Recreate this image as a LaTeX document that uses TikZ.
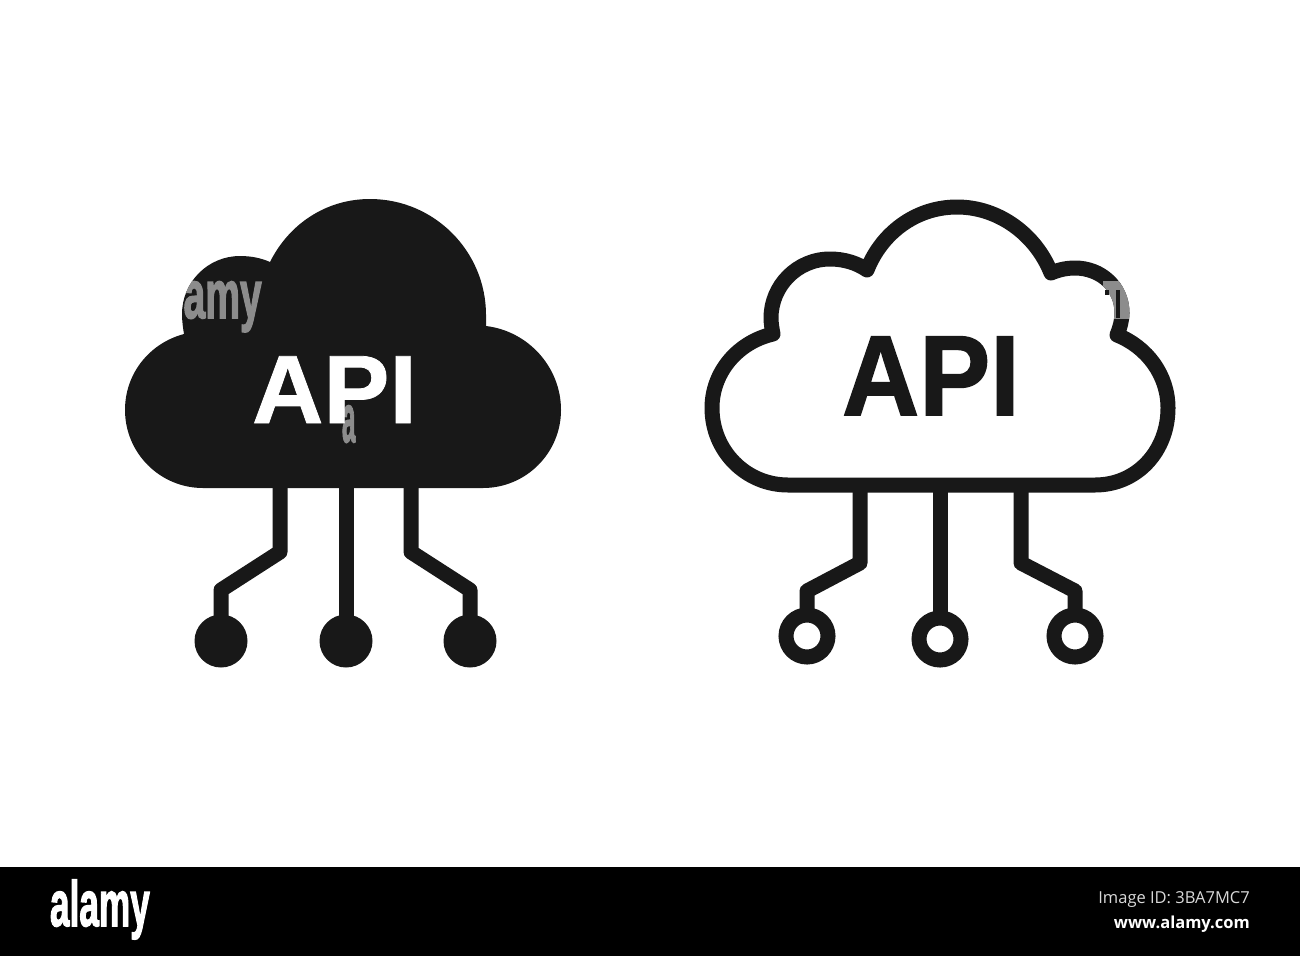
\documentclass[tikz,border=0pt]{standalone}
\usepackage{fontspec}
\setmainfont{Liberation Sans}
\newfontfamily\opensans{Open Sans}
\newfontfamily\apifont[BoldFeatures={FakeBold=0.8}]{Liberation Sans}
\newfontfamily\apiheavy[BoldFeatures={FakeBold=1.4}]{Liberation Sans}
\newfontfamily\logofont[BoldFeatures={FakeBold=2.5}]{Liberation Sans}
\definecolor{ink}{HTML}{181818}
\definecolor{mark}{HTML}{8C8C8C}
\newcommand{\leftcloud}{(203,488) -- (483,488) .. controls (526,488) and (561,453) .. (561,410) .. controls (561,367) and (528,331) .. (486,326) .. controls (486,316) and (486,315) .. (486,315) .. controls (486,251) and (434,199) .. (370,199) .. controls (326,199) and (289,224) .. (270,262) .. controls (261,258) and (251,256) .. (240,256) .. controls (208,256) and (182,282) .. (182,314) .. controls (182,321) and (183,328) .. (184,334) .. controls (150,343) and (125,373) .. (125,410) .. controls (125,453) and (160,488) .. (203,488) -- cycle}
\newcommand{\rightcloud}{(788,485) -- (1095,485) .. controls (1137,485) and (1168,451) .. (1168,408)
  .. controls (1168,375) and (1147,347) .. (1117,335)
  .. controls (1120,328) and (1122,320) .. (1122,313)
  .. controls (1122,287) and (1101,268) .. (1075,268)
  .. controls (1066,268) and (1058,270) .. (1051,273)
  .. controls (1036,235) and (999,207) .. (957,207)
  .. controls (915,207) and (881,234) .. (867,270)
  .. controls (857,263) and (844,259) .. (830,259)
  .. controls (797,259) and (771,286) .. (771,318)
  .. controls (771,323) and (772,329) .. (773,334)
  .. controls (738,342) and (712,372) .. (712,408)
  .. controls (712,451) and (746,485) .. (788,485) -- cycle}
\begin{document}
\begin{tikzpicture}[x=1pt,y=-1pt,
  leg/.style={line width=15pt,draw=ink,line join=round,line cap=butt},
  solidend/.style={circle,fill=ink,draw=none,minimum size=53pt,inner sep=0pt},
  ringend/.style={circle,fill=white,draw=ink,line width=15pt,minimum size=42pt,inner sep=0pt,outer sep=0pt},
  lab/.style={inner sep=0pt,outer sep=0pt,anchor=base},
  logo/.style={inner sep=0pt,outer sep=0pt,anchor=base west,font=\logofont\bfseries\fontsize{64}{64}\selectfont}]
\useasboundingbox (0,0) rectangle (1300,956);
\fill[white] (0,0) rectangle (1300,956);
\fill[black] (0,867) rectangle (1300,956);
% left icon
\coordinate (la1) at (280,480);
\coordinate (la2) at (280,552);
\coordinate (la3) at (221,590);
\coordinate (lb1) at (346,480);
\coordinate (lc1) at (411,480);
\coordinate (lc2) at (411,552);
\coordinate (lc3) at (470,590);
\node[solidend] (ld1) at (221,641) {};
\node[solidend] (ld2) at (346,641) {};
\node[solidend] (ld3) at (470,641) {};
\draw[leg] (la1) -- (la2) -- (la3) -- (ld1.center);
\draw[leg] (lb1) -- (ld2.center);
\draw[leg] (lc1) -- (lc2) -- (lc3) -- (ld3.center);
\fill[ink] \leftcloud;
\begin{scope}
\clip \leftcloud;
\node[logo,text=mark,xscale=.61,yscale=1.06] (wm1) at (151,318) {alamy};
\node[logo,text=mark,xscale=.38,yscale=1.06] (wm2) at (342,442) {a};
\end{scope}
\node[lab,text=white,xscale=1.02,font=\apifont\bfseries\fontsize{97}{97}\selectfont] (api1) at (334.5,423) {API};
% right icon
\coordinate (ra1) at (860,485);
\coordinate (ra2) at (860,563);
\coordinate (ra3) at (807,591);
\coordinate (rb1) at (940,485);
\coordinate (rc1) at (1021,485);
\coordinate (rc2) at (1021,563);
\coordinate (rc3) at (1075,591);
\node[ringend] (rd1) at (807,636) {};
\node[ringend] (rd2) at (940,639) {};
\node[ringend] (rd3) at (1075,636) {};
\draw[leg] (ra1) -- (ra2) -- (ra3) -- (rd1.north);
\draw[leg] (rb1) -- (rd2.north);
\draw[leg] (rc1) -- (rc2) -- (rc3) -- (rd3.north);
\draw[line width=15pt,draw=ink,line join=round,line cap=round,fill=white] \rightcloud;
\begin{scope}
\clip (1103,281) rectangle (1130,318);
\draw[line width=15pt,draw=mark] \rightcloud;
\fill[ink] (1116,290) rectangle (1120,318);
\fill[ink] (1105,290) rectangle (1109,295);
\end{scope}
\node[lab,text=ink,yscale=1.09,xscale=1.02,font=\apiheavy\bfseries\fontsize{104.5}{104.5}\selectfont] (api2) at (931,415) {API};
% footer
\node[logo,text=white,xscale=.55] (brand) at (50,926) {alamy};
\node[inner sep=0pt,anchor=base east,text=white!85!black,font=\opensans\fontsize{16.5}{16.5}\selectfont] (imgid) at (1250,903) {Image ID: 3BA7MC7};
\node[inner sep=0pt,anchor=base east,text=white,font=\opensans\bfseries\fontsize{16.5}{16.5}\selectfont] (site) at (1250,928) {www.alamy.com};
\end{tikzpicture}
\end{document}
